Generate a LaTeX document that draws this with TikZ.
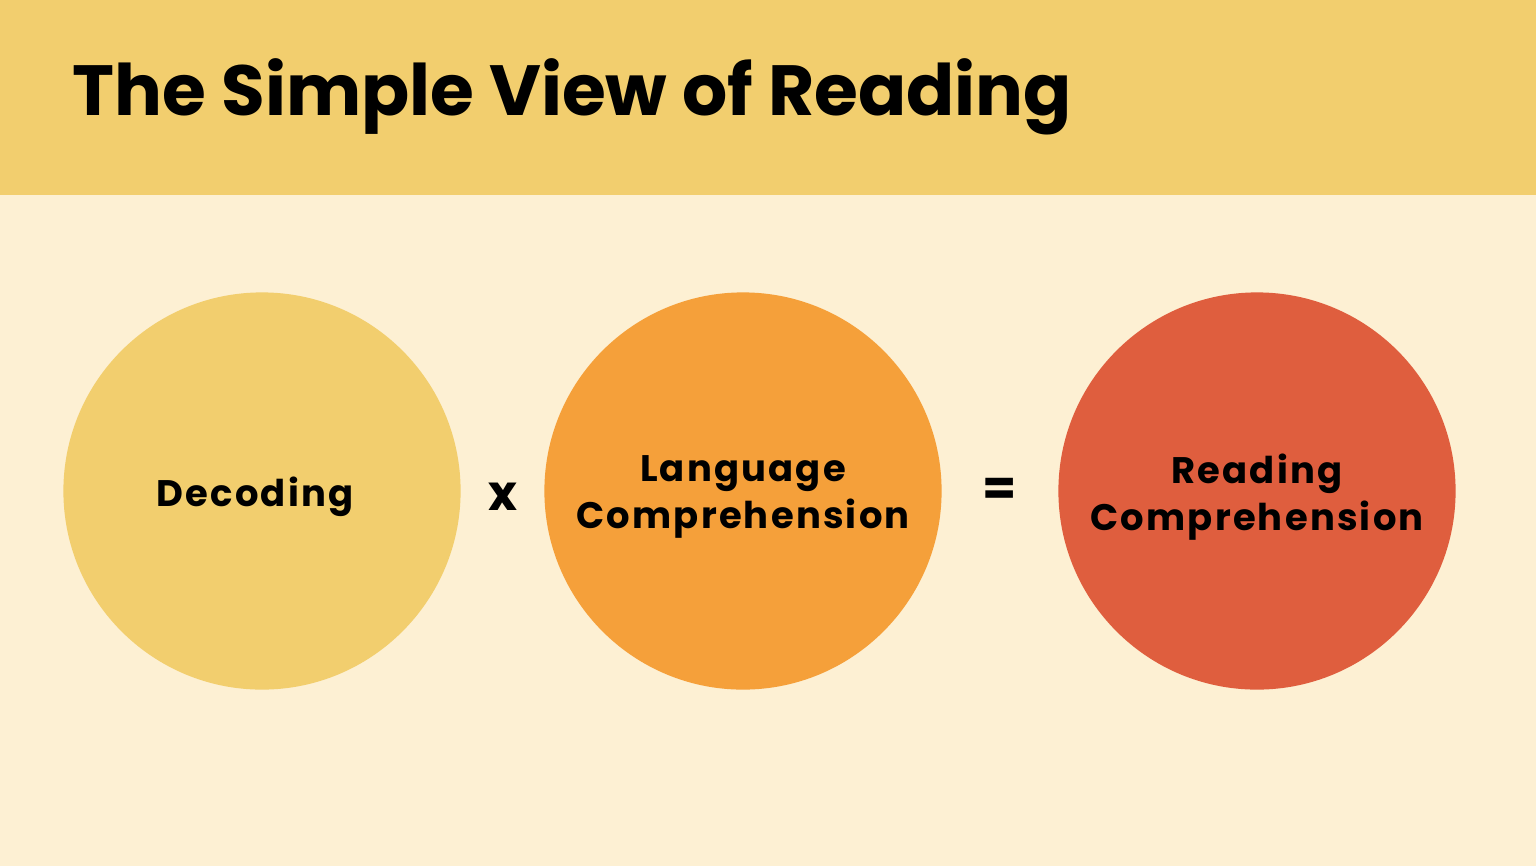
\documentclass[tikz,border=0pt]{standalone}
\usepackage{fontspec}
\setmainfont{Poppins}
\newfontfamily\spaced{Poppins}[LetterSpace=6]
\usetikzlibrary{positioning, calc}

\definecolor{band}{HTML}{F2CE6E}
\definecolor{paper}{HTML}{FDF0D3}
\definecolor{langorange}{HTML}{F5A03A}
\definecolor{readred}{HTML}{DF5E3E}

\tikzset{
  circ/.style = {circle, minimum size=3.97cm, inner sep=0pt},
  circtext/.style = {align=center, inner sep=0pt,
                     font=\spaced\bfseries\fontsize{10.5}{13.4}\selectfont},
  op/.style = {font=\spaced\bfseries\fontsize{14}{14}\selectfont}
}

\begin{document}
\begin{tikzpicture}[x=0.01cm, y=-0.01cm]
\useasboundingbox (0,0) rectangle (1536,866);
\fill[paper] (0,0) rectangle (1536,866);
\fill[band] (0,0) rectangle (1536,195);
\node[anchor=base west, inner sep=0pt, font=\bfseries\fontsize{20.2}{20.2}\selectfont] (title) at (72,115) {The Simple View of Reading};

\node[circ, fill=band] (dec) at (262,491) {};
\node[circ, fill=langorange] (lang) at (743,491) {};
\node[circ, fill=readred] (read) at (1257,491) {};
\node[circtext, below=0.06cm of dec.center, anchor=center, xshift=-0.07cm] (dectext) {Decoding};
\node[circtext, below=0.06cm of lang.center, anchor=center] (langtext) {Language\\Comprehension};
\node[circtext, below=0.06cm of read.center, anchor=center] (readtext) {Reading\\Comprehension};
\node[op] (times) at ($(dec.east)!0.5!(lang.west)+(0,6)$) {x};
\node[op] (equals) at ($(lang.east)!0.5!(read.west)+(0,1)$) {=};
\end{tikzpicture}
\end{document}
